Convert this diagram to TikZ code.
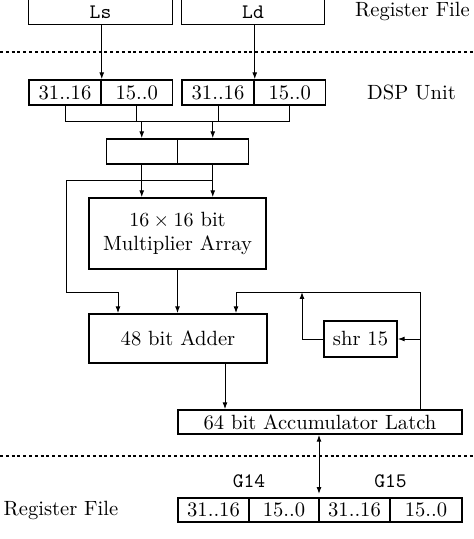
\documentclass[tikz,border=0pt]{standalone}
\usetikzlibrary{arrows.meta}
\begin{document}
\begin{tikzpicture}[x=0.5pt,y=-0.5pt,
  every node/.style={font=\fontsize{10.3}{12.4}\selectfont},
  cell/.style={draw,line width=0.75pt,rectangle,inner sep=0pt,minimum height=12.5pt},
  blk/.style={draw,line width=0.75pt,rectangle,inner sep=0pt,align=center},
  conn/.style={line width=0.5pt},
  arr/.style={conn,-{Latex[length=3.4pt,width=2.4pt]}},
  darr/.style={conn,{Latex[length=3.4pt,width=2.4pt]}-{Latex[length=3.4pt,width=2.4pt]}},
  dashline/.style={line width=0.55pt,dash pattern=on 1.5pt off 1.4pt},
  lbl/.style={anchor=base,inner sep=0pt}]
\clip (0,0) rectangle (474,539);
\fill[white] (0,0) rectangle (474,539);

% top register file
\node (Ls) [rectangle,inner sep=0pt,minimum width=71.5pt,minimum height=12pt] at (100.5,12) {\ttfamily Ls};
\node (Ld) [rectangle,inner sep=0pt,minimum width=71pt,minimum height=12pt] at (253,12) {\ttfamily Ld};
\draw[line width=0.75pt] ([yshift=4pt]Ls.north west) -- (Ls.south west) -- (Ls.south east) -- ([yshift=4pt]Ls.north east);
\draw[line width=0.75pt] ([yshift=4pt]Ld.north west) -- (Ld.south west) -- (Ld.south east) -- ([yshift=4pt]Ld.north east);
\node (rft) [lbl] at (412.5,16.5) {Register File};

\draw[dashline] (0,52) -- (474,52);

% DSP registers
\node (dsp) [lbl] at (411.5,100) {DSP Unit};
\node (rA1) [cell,minimum width=36pt] at (65,92.5) {31..16};
\node (rA2) [cell,minimum width=35.5pt] at (136.75,92.5) {15..0};
\node (rB1) [cell,minimum width=36pt] at (218,92.5) {31..16};
\node (rB2) [cell,minimum width=35.5pt] at (289.75,92.5) {15..0};

\draw[arr] (rA1.north east |- Ls.south) -- (rA1.north east);
\draw[arr] (rB1.north east |- Ld.south) -- (rB1.north east);

% bus
\coordinate (bus) at (0,122);
\draw[conn] (rA1.south) -- (rA1.south |- bus);
\draw[conn] (rA2.south) -- (rA2.south |- bus);
\draw[conn] (rB1.south) -- (rB1.south |- bus);
\draw[conn] (rB2.south) -- (rB2.south |- bus);
\draw[conn] (rA1.south |- bus) -- (rB2.south |- bus);

% middle latch
\node (mC1) [cell,minimum width=35.5pt] at (141.75,151.5) {};
\node (mC2) [cell,minimum width=35.5pt] at (212.75,151.5) {};
\draw[arr] (mC1.north |- bus) -- (mC1.north);
\draw[arr] (mC2.north |- bus) -- (mC2.north);

% multiplier
\node (mul) [blk,minimum width=88.5pt,minimum height=35.5pt] at (177.5,233.5) {$16\times 16$ bit\\Multiplier Array};
\draw[arr] (mC1.south) -- (mC1.south |- mul.north);
\draw[arr] (mC2.south) -- (mC2.south |- mul.north);

% adder
\node (add) [blk,minimum width=89pt,minimum height=24.5pt] at (178,338.5) {48 bit Adder};
\draw[arr] (mul.south) -- (mul.south |- add.north);

% left bypass
\coordinate (j1) at (66,181);
\coordinate (j2) at (66,292);
\coordinate (a1) at (118,292);
\draw[conn] (mC2.south |- j1) -- (j1);
\draw[arr] (j1) -- (j2) -- (a1) -- (a1 |- add.north);

% accumulator
\node (acc) [blk,minimum width=142pt,minimum height=12pt] at (320,422) {64 bit Accumulator Latch};
\coordinate (ax) at (225,0);
\draw[arr] (add.south -| ax) -- (acc.north -| ax);

% feedback
\node (shr) [blk,minimum width=36.5pt,minimum height=18pt] at (360.5,339) {shr 15};
\coordinate (r1) at (420,292);
\coordinate (r2) at (236,292);
\coordinate (r3) at (302,292);
\draw[conn] (acc.north -| r1) -- (r1) -- (r2);
\draw[arr] (r2) -- (r2 |- add.north);
\draw[arr] (shr.east -| r1) -- (shr.east);
\draw[arr] (shr.west) -| (r3);

\draw[dashline] (0,456) -- (474,456);

% bottom register file
\node (gA1) [cell,minimum width=35.5pt,minimum height=12pt] at (213.5,510) {31..16};
\node (gA2) [cell,minimum width=35pt,minimum height=12pt] at (284,510) {15..0};
\node (gB1) [cell,minimum width=35.5pt,minimum height=12pt] at (354.5,510) {31..16};
\node (gB2) [cell,minimum width=36pt,minimum height=12pt] at (426,510) {15..0};
\node (g14) [lbl] at (249,487) {\ttfamily G14};
\node (g15) [lbl] at (390.5,487) {\ttfamily G15};
\node (rfb) [lbl] at (61,515) {Register File};

\coordinate (dx) at (319,494);
\draw[darr] (acc.south -| dx) -- (dx);
\end{tikzpicture}
\end{document}
